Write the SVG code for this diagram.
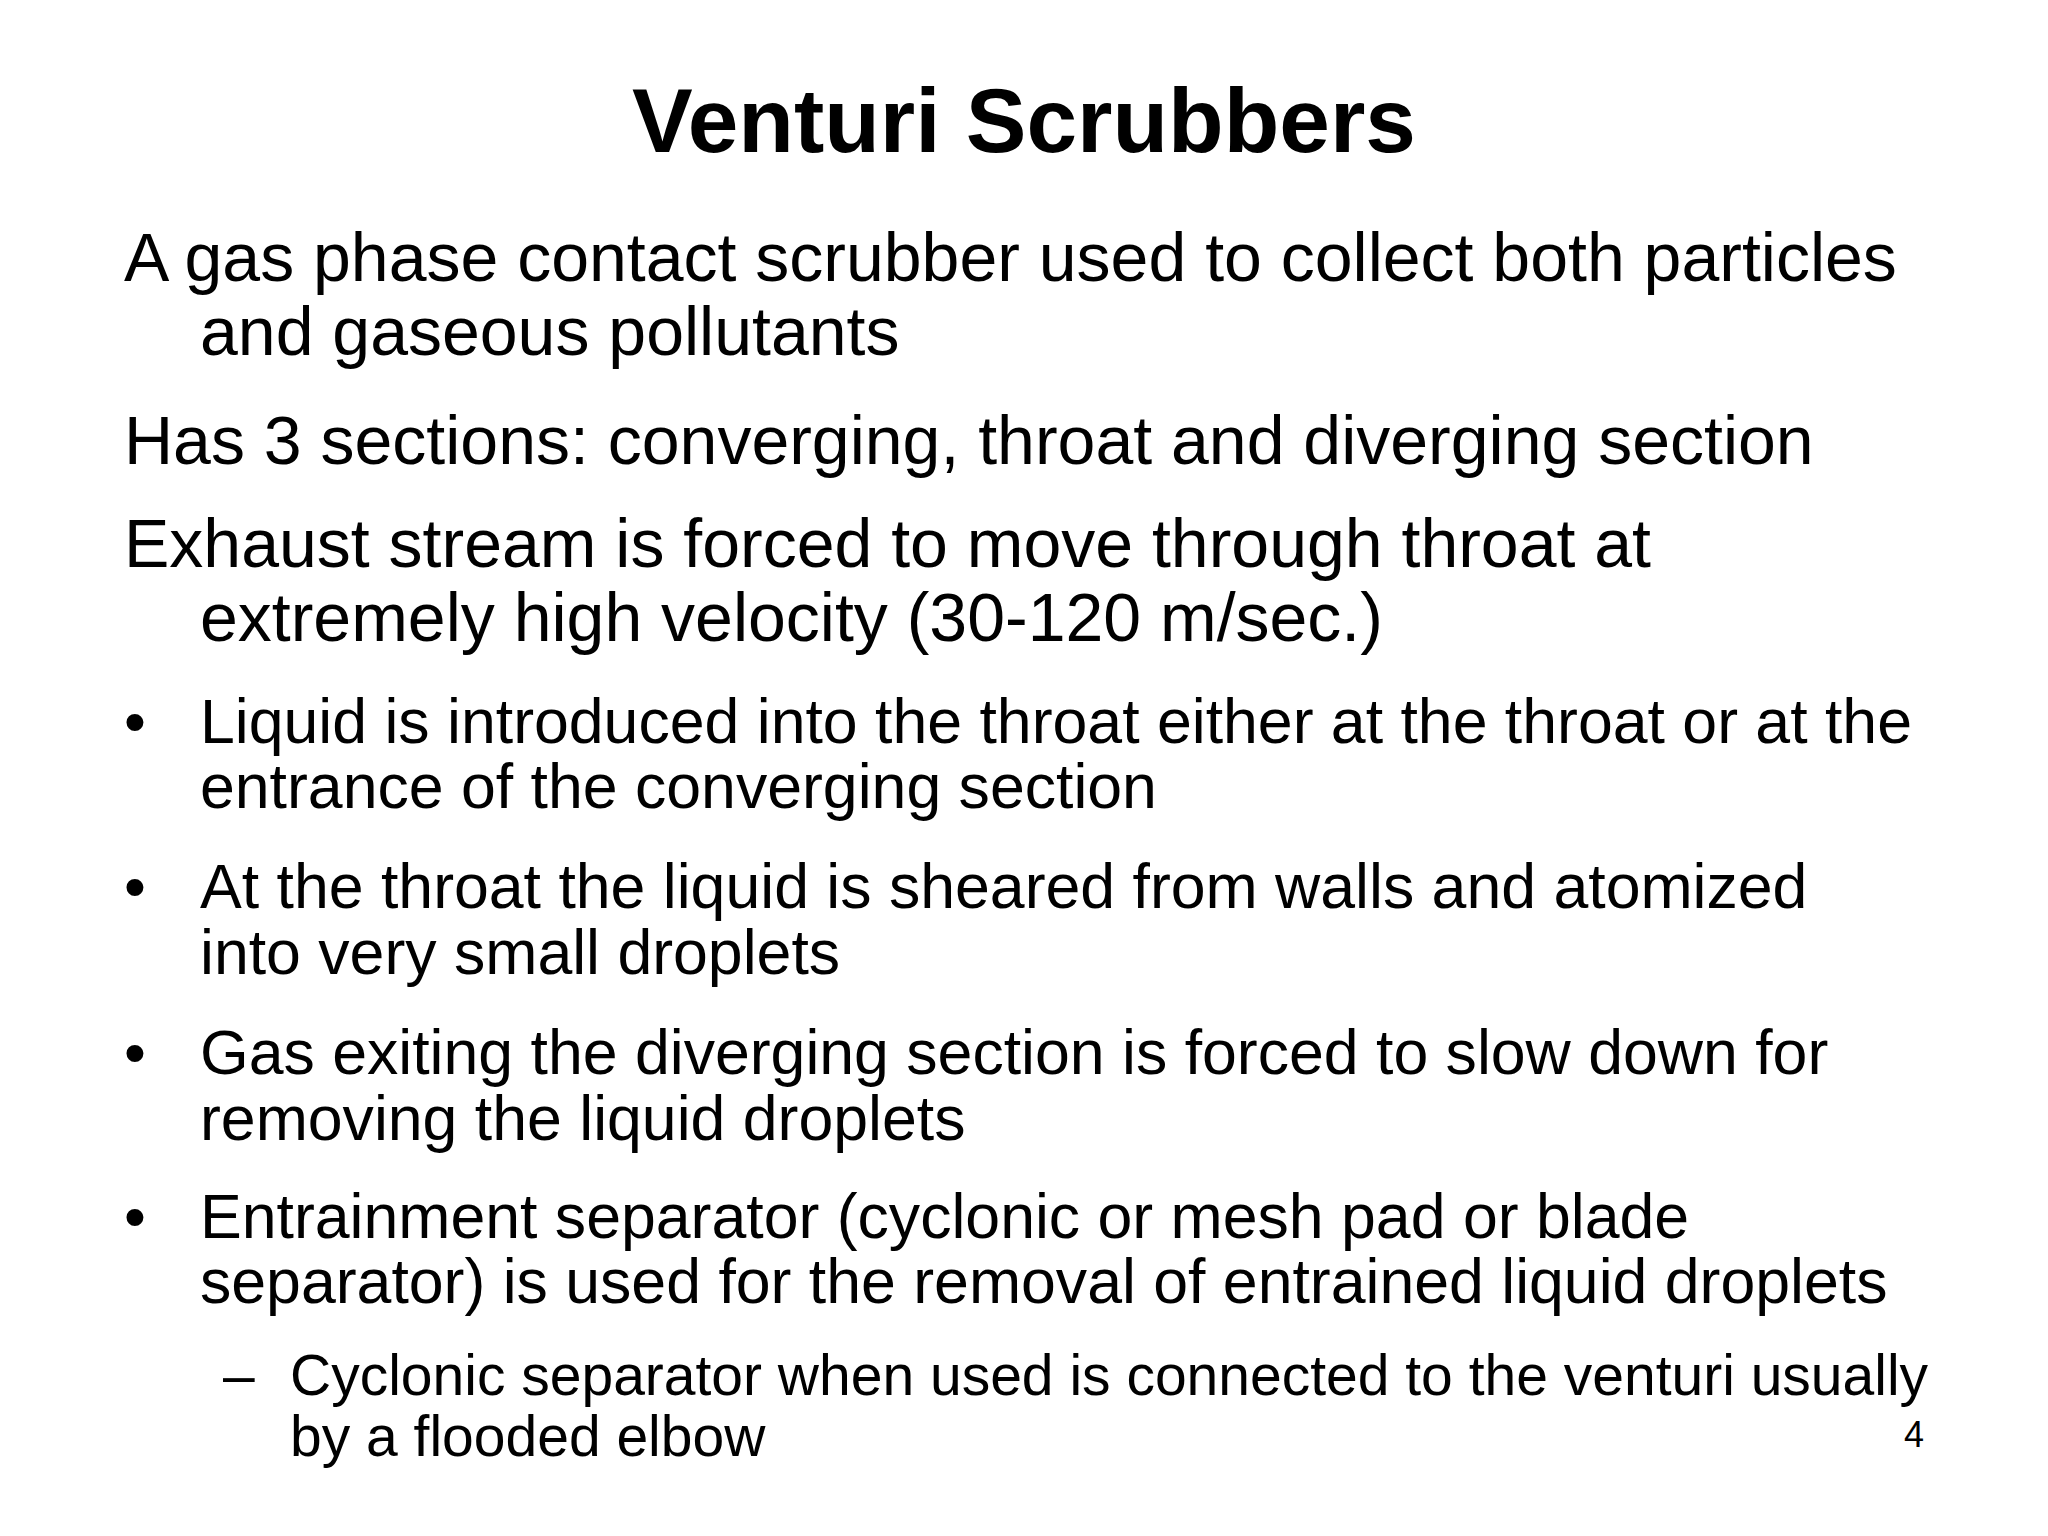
<svg xmlns="http://www.w3.org/2000/svg" width="2048" height="1536" viewBox="0 0 2048 1536">
<style>
text{font-family:"Liberation Sans",Arial,sans-serif;fill:#000}
.t{font-size:91px;font-weight:bold}
.b{font-size:68px}
.c{font-size:62.6px}
.s{font-size:57px}
</style>
<rect width="2048" height="1536" fill="#fff"/>
<text class="t" x="1024" y="152" text-anchor="middle">Venturi Scrubbers</text>
<text class="b" x="124" y="281">A gas phase contact scrubber used to collect both particles</text>
<text class="b" x="200" y="355">and gaseous pollutants</text>
<text class="b" x="124" y="464">Has 3 sections: converging, throat and diverging section</text>
<text class="b" x="124" y="567">Exhaust stream is forced to move through throat at</text>
<text class="b" x="200" y="641">extremely high velocity (30-120 m/sec.)</text>
<text class="c" x="124" y="743">•</text><text class="c" x="200" y="743">Liquid is introduced into the throat either at the throat or at the</text>
<text class="c" x="200" y="808">entrance of the converging section</text>
<text class="c" x="124" y="908">•</text><text class="c" x="200" y="908">At the throat the liquid is sheared from walls and atomized</text>
<text class="c" x="200" y="974">into very small droplets</text>
<text class="c" x="124" y="1074">•</text><text class="c" x="200" y="1074">Gas exiting the diverging section is forced to slow down for</text>
<text class="c" x="200" y="1140">removing the liquid droplets</text>
<text class="c" x="124" y="1238">•</text><text class="c" x="200" y="1238">Entrainment separator (cyclonic or mesh pad or blade</text>
<text class="c" x="200" y="1303">separator) is used for the removal of entrained liquid droplets</text>
<text class="s" x="223" y="1395">–</text><text class="s" x="290" y="1395">Cyclonic separator when used is connected to the venturi usually</text>
<text class="s" x="290" y="1456">by a flooded elbow</text>
<text x="1924" y="1447" text-anchor="end" font-size="36">4</text>
</svg>
